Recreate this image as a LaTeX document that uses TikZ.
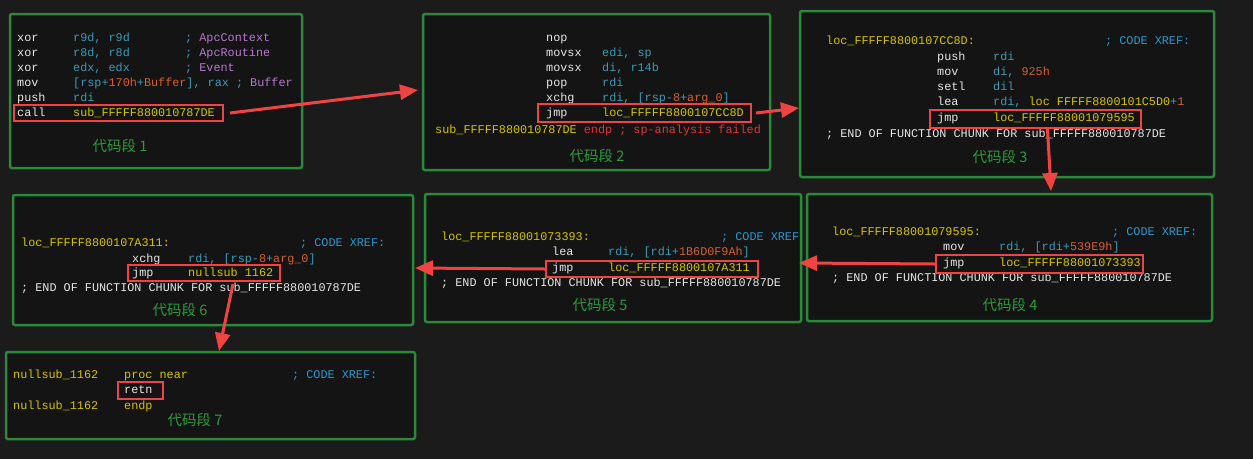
\documentclass[tikz,border=0pt]{standalone}
\usepackage{fontspec}
\setmonofont{Liberation Mono}
\newfontfamily\cjk{Noto Sans CJK SC}
\usetikzlibrary{arrows.meta}
\definecolor{bg}{HTML}{1B1B1B}
\definecolor{boxbg}{HTML}{141414}
\definecolor{gr}{HTML}{2A8A3A}
\definecolor{lab}{HTML}{2E9A3E}
\definecolor{cw}{HTML}{E6E6E6}
\definecolor{cr}{HTML}{3A9CB8}
\definecolor{cc}{HTML}{B877D0}
\definecolor{cn}{HTML}{D8602E}
\definecolor{cy}{HTML}{D8C400}
\definecolor{ce}{HTML}{E03434}
\definecolor{cx}{HTML}{2C98D0}
\definecolor{ar}{HTML}{F04444}
\tikzset{
 codebox/.style={draw=gr,line width=2.5pt,fill=boxbg,rounded corners=2pt},
 hl/.style={draw=ar,line width=2pt},
 t/.style={anchor=base west,inner sep=0pt,font=\ttfamily\fontsize{11.8}{13}\selectfont,text=cw},
 lbl/.style={anchor=center,inner sep=0pt,font=\cjk\fontsize{14.5}{16}\selectfont,text=lab},
 arr/.style={draw=ar,fill=ar,line width=3pt,-{Triangle[length=18pt,width=15pt]}},
}
\begin{document}
\begin{tikzpicture}[x=1pt,y=-1pt]
\fill[bg] (0,0) rectangle (1253,459);
\useasboundingbox (0,0) rectangle (1253,459);
% boxes
\draw[codebox] (10,14) rectangle (302,168);
\draw[codebox] (423,14) rectangle (770,170);
\draw[codebox] (800,11) rectangle (1214,177);
\draw[codebox] (807,194) rectangle (1212,321);
\draw[codebox] (425,194) rectangle (801,322);
\draw[codebox] (13,195) rectangle (413,325);
\draw[codebox] (6,352) rectangle (415,439);
% box 1
\node[t] at (17,41) {xor};\node[t] at (73,41) {\color{cr}r9d, r9d};\node[t] at (185,41) {\color{cr};\ \color{cc}ApcContext};
\node[t] at (17,56) {xor};\node[t] at (73,56) {\color{cr}r8d, r8d};\node[t] at (185,56) {\color{cr};\ \color{cc}ApcRoutine};
\node[t] at (17,71) {xor};\node[t] at (73,71) {\color{cr}edx, edx};\node[t] at (185,71) {\color{cr};\ \color{cc}Event};
\node[t] at (17,86) {mov};\node[t] at (73,86) {\color{cr}[rsp+\color{cn}170h\color{cr}+\color{cn}Buffer\color{cr}], rax ;\ \color{cc}Buffer};
\node[t] at (17,101) {push};\node[t] at (73,101) {\color{cr}rdi};
\node[t] at (17,116) {call};\node[t] at (73,116) {\color{cy}sub\_FFFFF880010787DE};
\node[hl,draw,minimum width=209pt,minimum height=16pt,anchor=north west,inner sep=0pt] (h1) at (13,104) {};
\node[lbl] (l1) at (120,146) {代码段 1};
% box 2
\node[t] at (546,41) {nop};
\node[t] at (546,56) {movsx};\node[t] at (602,56) {\color{cr}edi, sp};
\node[t] at (546,71) {movsx};\node[t] at (602,71) {\color{cr}di, r14b};
\node[t] at (546,86) {pop};\node[t] at (602,86) {\color{cr}rdi};
\node[t] at (546,101) {xchg};\node[t] at (602,101) {\color{cr}rdi, [rsp-\color{cn}8\color{cr}+\color{cn}arg\_0\color{cr}]};
\node[t] at (546,116) {jmp};\node[t] at (602,116) {\color{cy}loc\_FFFFF8800107CC8D};
\node[t] at (435,133) {\color{cy}sub\_FFFFF880010787DE \color{ce}endp ; sp-analysis failed};
\node[hl,draw,minimum width=213pt,minimum height=18pt,anchor=north west,inner sep=0pt] (h2) at (537,103) {};
\node[lbl] (l2) at (597,156) {代码段 2};
% box 3
\node[t] at (826,44) {\color{cy}loc\_FFFFF8800107CC8D:};\node[t] at (1105,44) {\color{cx}; CODE XREF:};
\node[t] at (937,60) {push};\node[t] at (993,60) {\color{cr}rdi};
\node[t] at (937,75) {mov};\node[t] at (993,75) {\color{cr}di, \color{cn}925h};
\node[t] at (937,90) {setl};\node[t] at (993,90) {\color{cr}dil};
\node[t] at (937,105) {lea};\node[t] at (993,105) {\color{cr}rdi, \color{cy}loc FFFFF8800101C5D0\color{cr}+\color{cn}1};
\node[t] at (937,121) {jmp};\node[t] at (993,121) {\color{cy}loc\_FFFFF88001079595};
\node[t] at (826,137) {; END OF FUNCTION CHUNK FOR sub\_FFFFF880010787DE};
\node[hl,draw,minimum width=211pt,minimum height=18pt,anchor=north west,inner sep=0pt] (h3) at (929,109) {};
\node[lbl] (l3) at (1000,157) {代码段 3};
% box 4
\node[t] at (832,235) {\color{cy}loc\_FFFFF88001079595:};\node[t] at (1112,235) {\color{cx}; CODE XREF:};
\node[t] at (943,250) {mov};\node[t] at (999,250) {\color{cr}rdi, [rdi+\color{cn}539E9h\color{cr}]};
\node[t] at (943,266) {jmp};\node[t] at (999,266) {\color{cy}loc\_FFFFF88001073393};
\node[t] at (832,281) {; END OF FUNCTION CHUNK FOR sub\_FFFFF880010787DE};
\node[hl,draw,minimum width=207pt,minimum height=18pt,anchor=north west,inner sep=0pt] (h4) at (935,254) {};
\node[lbl] (l4) at (1010,305) {代码段 4};
% box 5
\node[t] at (441,240) {\color{cy}loc\_FFFFF88001073393:};\node[t] at (721,240) {\color{cx}; CODE XREF};
\node[t] at (552,255) {lea};\node[t] at (608,255) {\color{cr}rdi, [rdi+\color{cn}1B6D0F9Ah\color{cr}]};
\node[t] at (552,271) {jmp};\node[t] at (608,271) {\color{cy}loc\_FFFFF8800107A311};
\node[t] at (441,286) {; END OF FUNCTION CHUNK FOR sub\_FFFFF880010787DE};
\node[hl,draw,minimum width=212pt,minimum height=16pt,anchor=north west,inner sep=0pt] (h5) at (545,260) {};
\node[lbl] (l5) at (600,305) {代码段 5};
% box 6
\node[t] at (21,246) {\color{cy}loc\_FFFFF8800107A311:};\node[t] at (300,246) {\color{cx}; CODE XREF:};
\node[t] at (132,262) {xchg};\node[t] at (188,262) {\color{cr}rdi, [rsp-\color{cn}8\color{cr}+\color{cn}arg\_0\color{cr}]};
\node[t] at (132,276) {jmp};\node[t] at (188,276) {\color{cy}nullsub 1162};
\node[t] at (21,291) {; END OF FUNCTION CHUNK FOR sub\_FFFFF880010787DE};
\node[hl,draw,minimum width=152pt,minimum height=16pt,anchor=north west,inner sep=0pt] (h6) at (127,264) {};
\node[lbl] (l6) at (180,310) {代码段 6};
% box 7
\node[t] at (13,378) {\color{cy}nullsub\_1162};\node[t] at (124,378) {\color{cy}proc near};\node[t] at (292,378) {\color{cx}; CODE XREF:};
\node[t] at (124,393) {retn};
\node[t] at (13,409) {\color{cy}nullsub\_1162};\node[t] at (124,409) {\color{cy}endp};
\node[hl,draw,minimum width=45pt,minimum height=17pt,anchor=north west,inner sep=0pt] (h7) at (117,381) {};
\node[lbl] (l7) at (195,420) {代码段 7};
% arrows
\coordinate (e2) at (418,90);
\coordinate (e3) at (799,108);
\coordinate (e4) at (1051,191);
\coordinate (e5) at (799,263);
\coordinate (e6) at (415,268);
\coordinate (e7) at (219,351);
\draw[arr] ([xshift=6pt]h1.east) -- (e2);
\draw[arr] ([xshift=4pt]h2.east) -- (e3);
\draw[arr] ([xshift=12pt]h3.south) -- (e4);
\draw[arr] (h4.west) -- (e5);
\draw[arr] (h5.west) -- (e6);
\draw[arr] ([xshift=29pt,yshift=-2pt]h6.south) -- (e7);
\end{tikzpicture}
\end{document}
